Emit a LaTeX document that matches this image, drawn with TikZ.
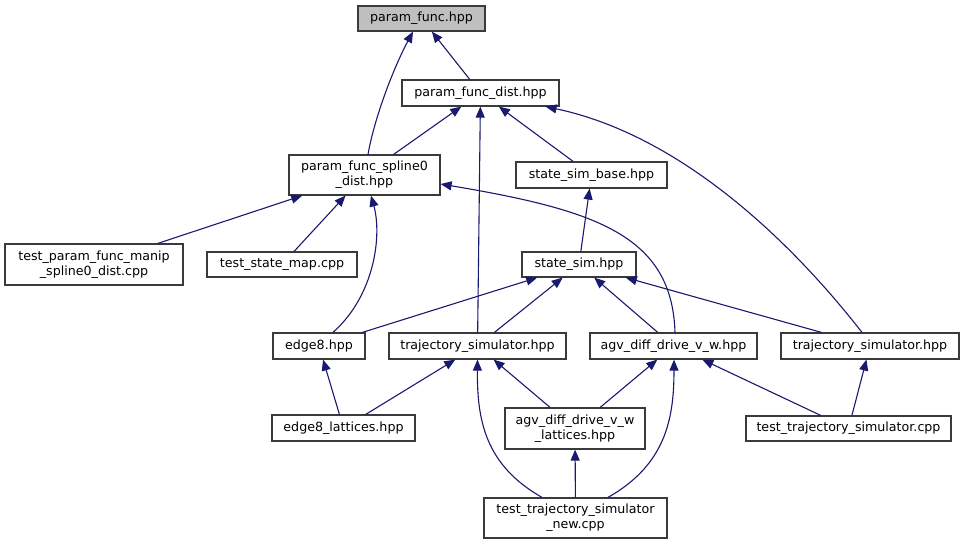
\documentclass[tikz,border=0pt]{standalone}
\usepackage{fontspec}
\setmainfont{DejaVu Sans}
\usetikzlibrary{arrows.meta}
\definecolor{edgeblue}{HTML}{191970}
\definecolor{boxline}{HTML}{3A3A3A}
\definecolor{srcfill}{HTML}{BFBFBF}
\tikzset{
  box/.style={draw=boxline, line width=1.2pt, fill=white, inner sep=0pt, align=center,
    font=\fontsize{12.65pt}{15pt}\selectfont},
  srcbox/.style={box, fill=srcfill},
  edge/.style={draw=edgeblue, line width=1.1pt, -{Triangle[length=11pt,width=9pt]}, fill=none},
}
\begin{document}
\begin{tikzpicture}[x=1pt,y=-1pt]
\useasboundingbox (0,0) rectangle (964,544);
% nodes
\node[srcbox, minimum width=127pt, minimum height=25pt] (pf) at (421.5,18.5) {param\_func.hpp};
\node[box, minimum width=157pt, minimum height=26pt] (pfd) at (480.5,93) {param\_func\_dist.hpp};
\node[box, minimum width=151pt, minimum height=40pt] (spl) at (364.5,175) {param\_func\_spline0\\\_dist.hpp};
\node[box, minimum width=178pt, minimum height=41pt] (manip) at (94,264.5) {test\_param\_func\_manip\\\_spline0\_dist.cpp};
\node[box, minimum width=150pt, minimum height=25pt] (smap) at (282,264.5) {test\_state\_map.cpp};
\node[box, minimum width=151pt, minimum height=26pt] (ssb) at (591.5,175) {state\_sim\_base.hpp};
\node[box, minimum width=114pt, minimum height=25pt] (ss) at (579,264.5) {state\_sim.hpp};
\node[box, minimum width=92pt, minimum height=26pt] (e8) at (319,346) {edge8.hpp};
\node[box, minimum width=177pt, minimum height=26pt] (tsl) at (477.5,346) {trajectory\_simulator.hpp};
\node[box, minimum width=167pt, minimum height=26pt] (agv) at (673.5,346) {agv\_diff\_drive\_v\_w.hpp};
\node[box, minimum width=178pt, minimum height=26pt] (tsr) at (870,346) {trajectory\_simulator.hpp};
\node[box, minimum width=143pt, minimum height=26pt] (e8l) at (343.5,428) {edge8\_lattices.hpp};
\node[box, minimum width=140pt, minimum height=41pt] (agvl) at (575,428.5) {agv\_diff\_drive\_v\_w\\\_lattices.hpp};
\node[box, minimum width=205pt, minimum height=25pt] (tsc) at (848.5,428.5) {test\_trajectory\_simulator.cpp};
\node[box, minimum width=183pt, minimum height=40pt] (tsn) at (575.5,518) {test\_trajectory\_simulator\\\_new.cpp};
% edges (child -> parent, head at parent)
\draw[edge] (pfd) -- (pf);
\draw[edge] ([xshift=3.5pt]spl.north) .. controls (375,115) and (395,65) .. ([xshift=-8.5pt]pf.south);
\draw[edge] (spl) -- (pfd);
\draw[edge] (tsl) -- (pfd);
\draw[edge] (ssb) -- (pfd);
\draw[edge] ([xshift=-8pt]tsr.north) .. controls (790,240) and (680,135) .. ([xshift=-14pt]pfd.south east);
\draw[edge] (manip) -- (spl);
\draw[edge] (smap) -- (spl);
\draw[edge] ([xshift=14pt]e8.north) .. controls (375,295) and (382,235) .. ([xshift=6.5pt]spl.south);
\draw[edge] ([xshift=1.5pt]agv.north) .. controls (672,235) and (595,210) .. ([yshift=-9pt]spl.east);
\draw[edge] (ss) -- (ssb);
\draw[edge] (e8) -- (ss);
\draw[edge] (tsl) -- (ss);
\draw[edge] (agv) -- (ss);
\draw[edge] (tsr) -- (ss);
\draw[edge] (e8l) -- (e8);
\draw[edge] (e8l) -- (tsl);
\draw[edge] (agvl) -- (tsl);
\draw[edge] ([xshift=-33.5pt]tsn.north) .. controls (485,465) and (477,420) .. (tsl.south);
\draw[edge] (agvl) -- (agv);
\draw[edge] ([xshift=32.5pt]tsn.north) .. controls (665,465) and (674,420) .. ([xshift=0.5pt]agv.south);
\draw[edge] (tsc) -- (agv);
\draw[edge] (tsc) -- (tsr);
\draw[edge] (tsn) -- (agvl);
\end{tikzpicture}
\end{document}
